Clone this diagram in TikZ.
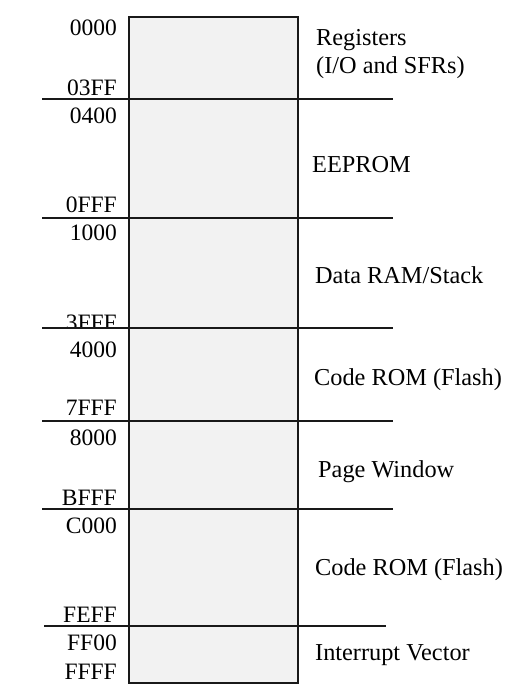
\documentclass[tikz,border=0pt]{standalone}
\usepackage{fontspec}
\setmainfont{Liberation Serif}
\begin{document}
\begin{tikzpicture}[x=1pt,y=-1pt,
  addr/.style={anchor=base east,inner sep=0pt,font=\fontsize{23.5}{26}\selectfont},
  region/.style={anchor=base west,inner sep=0pt,font=\fontsize{24.3}{29}\selectfont,align=left},
  divider/.style={line width=2pt,black!90},
  mem/.style={draw=black!90,line width=2pt,fill=black!5}]
\useasboundingbox (0,0) rectangle (511,689);
\fill[white] (0,0) rectangle (511,689);
\draw[mem] (129,17) rectangle (298,683);
% dividers
\coordinate (d1l) at (42,99);  \coordinate (d1r) at (393,99);
\coordinate (d2l) at (42,218); \coordinate (d2r) at (393,218);
\coordinate (d3l) at (42,327.5); \coordinate (d3r) at (393,327.5);
\coordinate (d4l) at (42,421); \coordinate (d4r) at (393,421);
\coordinate (d5l) at (42,509); \coordinate (d5r) at (393,509);
\coordinate (d6l) at (44,626); \coordinate (d6r) at (386,626);
\foreach \i in {1,...,6} {\draw[divider] (d\i l) -- (d\i r);}
% address labels
\node[addr] (a1) at (117,35) {0000};
\node[addr] (a2) at (117,95) {03FF};
\node[addr] (a3) at (117,123) {0400};
\node[addr] (a4) at (117,212) {0FFF};
\node[addr] (a5) at (117,240) {1000};
\begin{scope}
\clip (0,300) rectangle (128,326.5);
\node[addr] (a6) at (117,330) {3FFF};
\end{scope}
\node[addr] (a7) at (117,357) {4000};
\node[addr] (a8) at (117,415) {7FFF};
\node[addr] (a9) at (117,445) {8000};
\node[addr] (a10) at (117,505) {BFFF};
\node[addr] (a11) at (117,533) {C000};
\node[addr] (a12) at (117,622) {FEFF};
\node[addr] (a13) at (117,650) {FF00};
\node[addr] (a14) at (117,679) {FFFF};
% region labels
\node[region] (r1) at (316,45) {Registers};
\node[region] (r1b) at (316,73) {(I/O and SFRs)};
\node[region] (r2) at (312,172) {EEPROM};
\node[region] (r3) at (315,283) {Data RAM/Stack};
\node[region] (r4) at (314,385) {Code ROM (Flash)};
\node[region] (r5) at (318,477) {Page Window};
\node[region] (r6) at (315,575) {Code ROM (Flash)};
\node[region] (r7) at (315,660) {Interrupt Vector};
\end{tikzpicture}
\end{document}
